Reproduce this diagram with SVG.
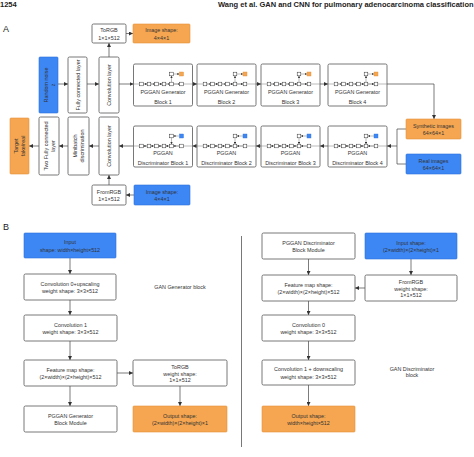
<svg xmlns="http://www.w3.org/2000/svg" width="474" height="457" viewBox="0 0 474 457">
<style>
.bx{fill:#fff;stroke:#555;stroke-width:0.8}
.bl{fill:#3d87f5;stroke:#2d70d8;stroke-width:0.6}
.or{fill:#f6a650;stroke:#e5903a;stroke-width:0.6}
.t{font-family:"Liberation Sans",Arial,sans-serif;font-size:5.4px;fill:#333;text-anchor:middle}
.h{font-family:"Liberation Sans",Arial,sans-serif;font-size:7.5px;font-weight:bold;fill:#222}
.lb{font-family:"Liberation Sans",Arial,sans-serif;font-size:9px;fill:#222}
.c{stroke:#444;stroke-width:0.7;fill:none}
.ch{stroke:#777;stroke-width:0.5;fill:none}
.sq{fill:#fff;stroke:#333;stroke-width:0.5}
</style>
<defs>
<marker id="ar" viewBox="0 0 6 6" refX="6" refY="3" markerWidth="4" markerHeight="4" orient="auto" markerUnits="userSpaceOnUse"><path d="M0,0L6,3L0,6z" fill="#333"/></marker>
<marker id="am" viewBox="0 0 6 6" refX="6" refY="3" markerWidth="2.2" markerHeight="2.2" orient="auto" markerUnits="userSpaceOnUse"><path d="M0,0L6,3L0,6z" fill="#333"/></marker>
<g id="gm">
<line class="ch" x1="0" y1="0" x2="59" y2="0"/>
<line class="ch" x1="9.8" y1="0" x2="13.7" y2="0" marker-end="url(#am)"/>
<line class="ch" x1="17.3" y1="0" x2="21.2" y2="0" marker-end="url(#am)"/>
<line class="ch" x1="24.8" y1="0" x2="28.7" y2="0" marker-end="url(#am)"/>
<line class="ch" x1="32.3" y1="0" x2="36.2" y2="0" marker-end="url(#am)"/>
<line class="ch" x1="39.8" y1="0" x2="46.2" y2="0" marker-end="url(#am)"/>
<line class="ch" x1="38" y1="-1.8" x2="38" y2="-8.2" marker-end="url(#am)"/>
<line class="ch" x1="39.8" y1="-10" x2="46" y2="-10" marker-end="url(#am)"/>
<rect class="sq" x="6.2" y="-1.8" width="3.6" height="3.6"/>
<rect class="sq" x="13.7" y="-1.8" width="3.6" height="3.6"/>
<rect class="sq" x="21.2" y="-1.8" width="3.6" height="3.6"/>
<rect class="sq" x="28.7" y="-1.8" width="3.6" height="3.6"/>
<rect class="sq" x="36.2" y="-1.8" width="3.6" height="3.6"/>
<rect class="sq" x="46.2" y="-1.8" width="3.6" height="3.6"/>
<rect class="sq" x="36.2" y="-11.8" width="3.6" height="3.6"/>
<rect x="46" y="-12" width="4" height="4" fill="#f6a650" stroke="#d98a30" stroke-width="0.4"/>
</g>
<g id="dm">
<line class="ch" x1="0" y1="0" x2="59" y2="0"/>
<line class="ch" x1="13.7" y1="0" x2="9.8" y2="0" marker-end="url(#am)"/>
<line class="ch" x1="21.2" y1="0" x2="17.3" y2="0" marker-end="url(#am)"/>
<line class="ch" x1="28.7" y1="0" x2="24.8" y2="0" marker-end="url(#am)"/>
<line class="ch" x1="36.2" y1="0" x2="32.3" y2="0" marker-end="url(#am)"/>
<line class="ch" x1="46.2" y1="0" x2="39.8" y2="0" marker-end="url(#am)"/>
<line class="ch" x1="38" y1="-8.2" x2="38" y2="-1.8" marker-end="url(#am)"/>
<line class="ch" x1="46" y1="-10" x2="39.8" y2="-10" marker-end="url(#am)"/>
<rect class="sq" x="6.2" y="-1.8" width="3.6" height="3.6"/>
<rect class="sq" x="13.7" y="-1.8" width="3.6" height="3.6"/>
<rect class="sq" x="21.2" y="-1.8" width="3.6" height="3.6"/>
<rect class="sq" x="28.7" y="-1.8" width="3.6" height="3.6"/>
<rect class="sq" x="36.2" y="-1.8" width="3.6" height="3.6"/>
<rect class="sq" x="46.2" y="-1.8" width="3.6" height="3.6"/>
<rect class="sq" x="36.2" y="-11.8" width="3.6" height="3.6"/>
<rect x="46" y="-12" width="4" height="4" fill="#3d87f5" stroke="#2d70d8" stroke-width="0.4"/>
</g>
</defs>

<text class="h" x="0" y="7">1254</text>
<text class="h" x="218" y="7">Wang et al. GAN and CNN for pulmonary adenocarcinoma classification</text>
<text class="lb" x="3" y="32">A</text>
<text class="lb" x="3" y="230">B</text>

<g id="connectors">
<line class="c" x1="58" y1="84" x2="68" y2="84" marker-end="url(#ar)"/>
<line class="c" x1="87" y1="84" x2="99" y2="84" marker-end="url(#ar)"/>
<line class="c" x1="119" y1="84" x2="133.5" y2="84" marker-end="url(#ar)"/>
<line class="c" x1="192.5" y1="84" x2="197" y2="84" marker-end="url(#ar)"/>
<line class="c" x1="256" y1="84" x2="261" y2="84" marker-end="url(#ar)"/>
<line class="c" x1="320" y1="84" x2="328" y2="84" marker-end="url(#ar)"/>
<polyline class="c" points="387,84 434,84 434,119" marker-end="url(#ar)"/>
<line class="c" x1="109" y1="57" x2="109" y2="43" marker-end="url(#ar)"/>
<line class="c" x1="126" y1="33.5" x2="133" y2="33.5" marker-end="url(#ar)"/>
<polyline class="c" points="406,129 397,129 397,164 406,164"/>
<line class="c" x1="397" y1="146" x2="387" y2="146" marker-end="url(#ar)"/>
<line class="c" x1="328" y1="146" x2="320" y2="146" marker-end="url(#ar)"/>
<line class="c" x1="261" y1="146" x2="256" y2="146" marker-end="url(#ar)"/>
<line class="c" x1="197" y1="146" x2="192.5" y2="146" marker-end="url(#ar)"/>
<line class="c" x1="133.5" y1="146" x2="119" y2="146" marker-end="url(#ar)"/>
<line class="c" x1="99" y1="146" x2="89" y2="146" marker-end="url(#ar)"/>
<line class="c" x1="68" y1="146" x2="59" y2="146" marker-end="url(#ar)"/>
<line class="c" x1="39" y1="146" x2="29" y2="146" marker-end="url(#ar)"/>
<line class="c" x1="109" y1="185" x2="109" y2="175" marker-end="url(#ar)"/>
<line class="c" x1="134" y1="195" x2="126" y2="195" marker-end="url(#ar)"/>

<line class="c" x1="70" y1="258" x2="70" y2="274" marker-end="url(#ar)"/>
<line class="c" x1="70" y1="300" x2="70" y2="315" marker-end="url(#ar)"/>
<line class="c" x1="70" y1="341" x2="70" y2="360" marker-end="url(#ar)"/>
<line class="c" x1="70" y1="386" x2="70" y2="406" marker-end="url(#ar)"/>
<line class="c" x1="117" y1="373" x2="133" y2="373" marker-end="url(#ar)"/>
<line class="c" x1="180" y1="386" x2="180" y2="406" marker-end="url(#ar)"/>
<line class="c" x1="308.5" y1="259" x2="308.5" y2="275" marker-end="url(#ar)"/>
<line class="c" x1="411" y1="259" x2="411" y2="275" marker-end="url(#ar)"/>
<line class="c" x1="365" y1="288" x2="355" y2="288" marker-end="url(#ar)"/>
<line class="c" x1="308.5" y1="301" x2="308.5" y2="315" marker-end="url(#ar)"/>
<line class="c" x1="308.5" y1="341" x2="308.5" y2="360" marker-end="url(#ar)"/>
<line class="c" x1="308.5" y1="385" x2="308.5" y2="406" marker-end="url(#ar)"/>
</g>

<line x1="241.5" y1="236" x2="241.5" y2="447" stroke="#555" stroke-width="0.8"/>

<!-- Part A top row -->
<g id="torgb-a"><rect class="bx" x="92" y="24" width="34" height="19" rx="1.5"/><text class="t" x="109" y="32">ToRGB</text><text class="t" x="109" y="39.5">1×1×512</text></g>
<g id="imgshape-out"><rect class="or" x="133" y="24" width="57" height="19" rx="1"/><text class="t" x="161.5" y="32">Image shape:</text><text class="t" x="161.5" y="39.5">4×4×1</text></g>
<g id="noise"><rect class="bl" x="39" y="57" width="19" height="56" rx="1"/><text class="t" transform="translate(47.5,85) rotate(-90)">Random noise</text><text class="t" transform="translate(54.5,85) rotate(-90)">z</text></g>
<g id="fc"><rect class="bx" x="68" y="57" width="19" height="56" rx="1.5"/><text class="t" transform="translate(79.5,85) rotate(-90)">Fully connected layer</text></g>
<g id="conv-g"><rect class="bx" x="99" y="57" width="20" height="56" rx="1.5"/><text class="t" transform="translate(111,85) rotate(-90)">Convolution layer</text></g>
<g id="gen1"><rect class="bx" x="133.5" y="64" width="59" height="42" rx="1.5"/><use href="#gm" x="133.5" y="84"/><text class="t" x="163" y="94">PGGAN Generator</text><text class="t" x="163" y="103.5">Block 1</text></g>
<g id="gen2"><rect class="bx" x="197" y="64" width="59" height="42" rx="1.5"/><use href="#gm" x="197" y="84"/><text class="t" x="226.5" y="94">PGGAN Generator</text><text class="t" x="226.5" y="103.5">Block 2</text></g>
<g id="gen3"><rect class="bx" x="261" y="64" width="59" height="42" rx="1.5"/><use href="#gm" x="261" y="84"/><text class="t" x="290.5" y="94">PGGAN Generator</text><text class="t" x="290.5" y="103.5">Block 3</text></g>
<g id="gen4"><rect class="bx" x="328" y="64" width="59" height="42" rx="1.5"/><use href="#gm" x="328" y="84"/><text class="t" x="357.5" y="94">PGGAN Generator</text><text class="t" x="357.5" y="103.5">Block 4</text></g>
<g id="synthetic"><rect class="or" x="406" y="119" width="55" height="20" rx="1"/><text class="t" x="433.5" y="127.5">Synthetic images</text><text class="t" x="433.5" y="135">64×64×1</text></g>
<g id="real"><rect class="bl" x="406" y="154" width="55" height="20" rx="1"/><text class="t" x="433.5" y="162.5">Real images</text><text class="t" x="433.5" y="170">64×64×1</text></g>

<!-- Part A bottom row -->
<g id="target"><rect class="or" x="10" y="118" width="19" height="56" rx="1"/><text class="t" transform="translate(18,146) rotate(-90)">Target</text><text class="t" transform="translate(25,146) rotate(-90)">fake/real</text></g>
<g id="twofc"><rect class="bx" x="39" y="117" width="20" height="58" rx="1.5"/><text class="t" transform="translate(48,146) rotate(-90)">Two Fully connected</text><text class="t" transform="translate(55,146) rotate(-90)">layer</text></g>
<g id="minibatch"><rect class="bx" x="68" y="117" width="21" height="58" rx="1.5"/><text class="t" transform="translate(77,146) rotate(-90)">Minibatch</text><text class="t" transform="translate(84,146) rotate(-90)">discrimination</text></g>
<g id="conv-d"><rect class="bx" x="99" y="117" width="20" height="58" rx="1.5"/><text class="t" transform="translate(111,146) rotate(-90)">Convolution layer</text></g>
<g id="dis1"><rect class="bx" x="133.5" y="126" width="59" height="41" rx="1.5"/><use href="#dm" x="133.5" y="146"/><text class="t" x="163" y="155">PGGAN</text><text class="t" x="163" y="164.5">Discriminator Block 1</text></g>
<g id="dis2"><rect class="bx" x="197" y="126" width="59" height="41" rx="1.5"/><use href="#dm" x="197" y="146"/><text class="t" x="226.5" y="155">PGGAN</text><text class="t" x="226.5" y="164.5">Discriminator Block 2</text></g>
<g id="dis3"><rect class="bx" x="261" y="126" width="59" height="41" rx="1.5"/><use href="#dm" x="261" y="146"/><text class="t" x="290.5" y="155">PGGAN</text><text class="t" x="290.5" y="164.5">Discriminator Block 3</text></g>
<g id="dis4"><rect class="bx" x="328" y="126" width="59" height="41" rx="1.5"/><use href="#dm" x="328" y="146"/><text class="t" x="357.5" y="155">PGGAN</text><text class="t" x="357.5" y="164.5">Discriminator Block 4</text></g>
<g id="fromrgb-a"><rect class="bx" x="92" y="185" width="34" height="20" rx="1.5"/><text class="t" x="109" y="193.5">FromRGB</text><text class="t" x="109" y="201">1×1×512</text></g>
<g id="imgshape-in"><rect class="bl" x="134" y="185" width="56" height="20" rx="1"/><text class="t" x="162" y="193.5">Image shape:</text><text class="t" x="162" y="201">4×4×1</text></g>

<!-- Part B left -->
<g id="b-input"><rect class="bl" x="24" y="233" width="92" height="25" rx="1"/><text class="t" x="70" y="244">Input</text><text class="t" x="70" y="251.5">shape: width×height×512</text></g>
<g id="b-conv0"><rect class="bx" x="24" y="274" width="92" height="26" rx="1.5"/><text class="t" x="70" y="285.5">Convolution 0+upscaling</text><text class="t" x="70" y="293">weight shape: 3×3×512</text></g>
<text class="t" x="180" y="289">GAN Generator block</text>
<g id="b-conv1"><rect class="bx" x="24" y="315" width="93" height="26" rx="1.5"/><text class="t" x="70.5" y="326.5">Convolution 1</text><text class="t" x="70.5" y="334">weight shape: 3×3×512</text></g>
<g id="b-feat"><rect class="bx" x="24" y="360" width="93" height="26" rx="1.5"/><text class="t" x="70.5" y="371.5">Feature map shape:</text><text class="t" x="70.5" y="379">(2×width)×(2×height)×512</text></g>
<g id="b-torgb"><rect class="bx" x="133" y="360" width="94" height="26" rx="1.5"/><text class="t" x="180" y="369">ToRGB</text><text class="t" x="180" y="375.5">weight shape:</text><text class="t" x="180" y="382">1×1×512</text></g>
<g id="b-genmod"><rect class="bx" x="24" y="406" width="93" height="26" rx="1.5"/><text class="t" x="70.5" y="417.5">PGGAN Generator</text><text class="t" x="70.5" y="425">Block Module</text></g>
<g id="b-out-g"><rect class="or" x="133" y="406" width="94" height="26" rx="1"/><text class="t" x="180" y="417.5">Output shape:</text><text class="t" x="180" y="425">(2×width)×(2×height)×1</text></g>

<!-- Part B right -->
<g id="b-dismod"><rect class="bx" x="262" y="233" width="93" height="26" rx="1.5"/><text class="t" x="308.5" y="244.5">PGGAN Discriminator</text><text class="t" x="308.5" y="252">Block Module</text></g>
<g id="b-input-d"><rect class="bl" x="365" y="233" width="92" height="26" rx="1"/><text class="t" x="411" y="244.5">Input shape:</text><text class="t" x="411" y="252">(2×width)×(2×height)×1</text></g>
<g id="b-feat-d"><rect class="bx" x="262" y="275" width="93" height="26" rx="1.5"/><text class="t" x="308.5" y="286.5">Feature map shape:</text><text class="t" x="308.5" y="294">(2×width)×(2×height)×512</text></g>
<g id="b-fromrgb"><rect class="bx" x="365" y="275" width="92" height="26" rx="1.5"/><text class="t" x="411" y="284">FromRGB</text><text class="t" x="411" y="290.5">weight shape:</text><text class="t" x="411" y="297">1×1×512</text></g>
<g id="b-conv0-d"><rect class="bx" x="262" y="315" width="93" height="26" rx="1.5"/><text class="t" x="308.5" y="326.5">Convolution 0</text><text class="t" x="308.5" y="334">weight shape: 3×3×512</text></g>
<g id="b-conv1-d"><rect class="bx" x="262" y="360" width="93" height="25" rx="1.5"/><text class="t" x="308.5" y="371">Convolution 1 + downscaling</text><text class="t" x="308.5" y="378.5">weight shape: 3×3×512</text></g>
<text class="t" x="412" y="370.5">GAN Discriminator</text>
<text class="t" x="412" y="377">block</text>
<g id="b-out-d"><rect class="or" x="262" y="406" width="93" height="26" rx="1"/><text class="t" x="308.5" y="417.5">Output shape:</text><text class="t" x="308.5" y="425">width×height×512</text></g>
</svg>
